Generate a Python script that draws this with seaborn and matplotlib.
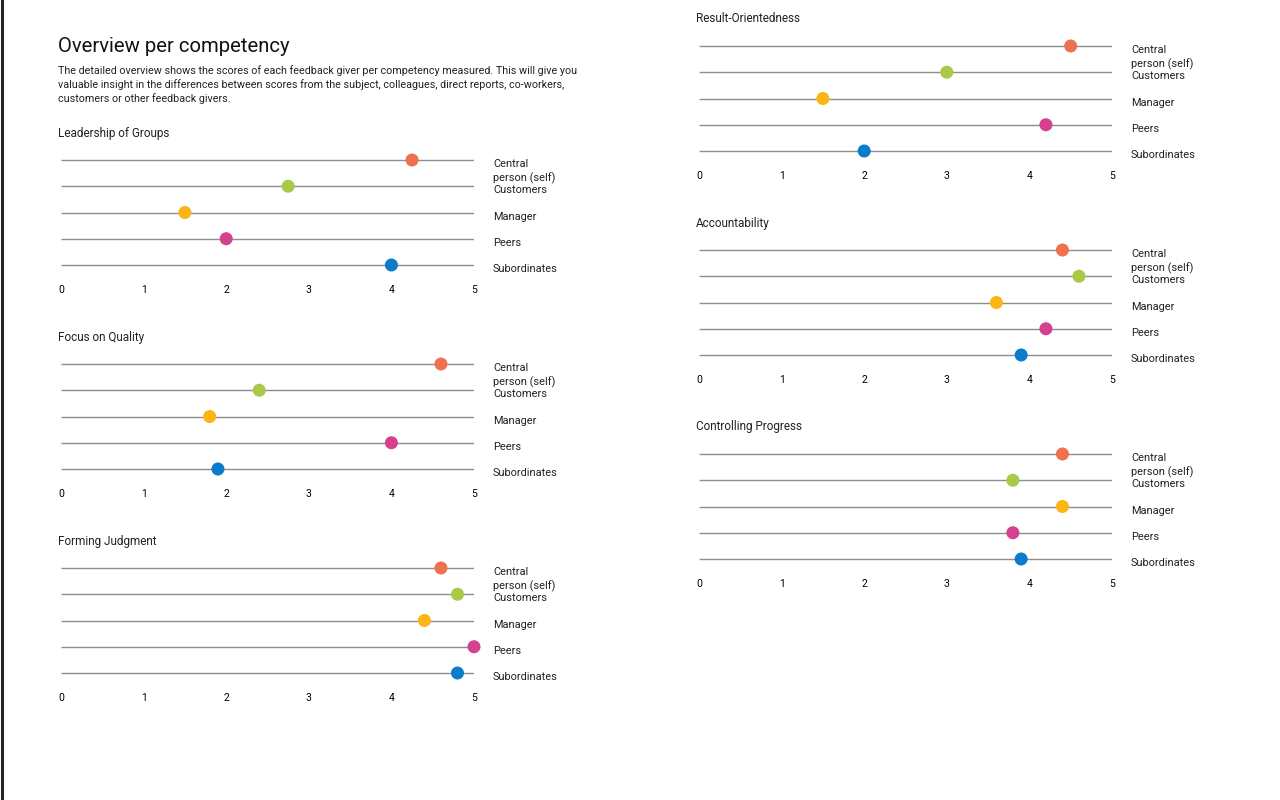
import numpy as np
import pandas as pd
import matplotlib
matplotlib.use("Agg")
import matplotlib.pyplot as plt
from matplotlib.lines import Line2D
import seaborn as sns

# ---------------- data ----------------
GIVERS = ["Central\nperson (self)", "Customers", "Manager", "Peers", "Subordinates"]
GIVER_KEYS = ["Central person (self)", "Customers", "Manager", "Peers", "Subordinates"]
COLORS = ["#EE7150", "#A9CA48", "#FDB515", "#D5418E", "#0B7CCB"]

TITLE = "Overview per competency"
INTRO = ("The detailed overview shows the scores of each feedback giver per competency measured. This will give you\n"
         "valuable insight in the differences between scores from the subject, colleagues, direct reports, co-workers,\n"
         "customers or other feedback givers.")

LEADERSHIP = [4.25, 2.75, 1.5, 2.0, 4.0]
QUALITY = [4.6, 2.4, 1.8, 4.0, 1.9]
JUDGMENT = [4.6, 4.8, 4.4, 5.0, 4.8]
RESULT = [4.5, 3.0, 1.5, 4.2, 2.0]
ACCOUNTABILITY = [4.4, 4.6, 3.6, 4.2, 3.9]
CONTROLLING = [4.4, 3.8, 4.4, 3.8, 3.9]

COMP_NAMES = ["Leadership of Groups", "Focus on Quality", "Forming Judgment",
              "Result-Orientedness", "Accountability", "Controlling Progress"]
COMP_SCORES = [LEADERSHIP, QUALITY, JUDGMENT, RESULT, ACCOUNTABILITY, CONTROLLING]
XTICKS = [0, 1, 2, 3, 4, 5]

# ---------------- style ----------------
sns.set_theme(style="white")
FONT = ["Roboto", "DejaVu Sans"]
plt.rcParams["font.family"] = FONT

W, H = 1280, 800
fig = plt.figure(figsize=(W / 100, H / 100), dpi=100)
fig.patch.set_facecolor("white")

# layout (pixels): x of score 0, x of score 5, y of first row
LAYOUT = [(61, 474, 160), (61, 474, 364), (61, 474, 568),
          (699, 1112, 46), (699, 1112, 250), (699, 1112, 454)]
ROW_GAP = 26.25
PAD = 0.4

def fx(px):
    return px / W

def fy(py):
    return 1 - py / H

for name, scores, (x0, x1, r0) in zip(COMP_NAMES, COMP_SCORES, LAYOUT):
    top = r0 - PAD * ROW_GAP
    bottom = r0 + (len(GIVERS) - 1 + PAD) * ROW_GAP
    ax = fig.add_axes([fx(x0), fy(bottom), fx(x1 - x0), (bottom - top) / H])
    df = pd.DataFrame({"giver": GIVER_KEYS, "score": scores,
                       "row": np.arange(len(GIVER_KEYS))})
    ax.hlines(df["row"], 0, 5, color="#8e8e8e", lw=1.0, zorder=1)
    sns.scatterplot(data=df, x="score", y="row", hue="giver",
                    palette=dict(zip(GIVER_KEYS, COLORS)), s=88,
                    edgecolor="none", legend=False, ax=ax, zorder=3,
                    clip_on=False)
    ax.set_xlim(0, 5)
    ax.set_ylim(len(GIVERS) - 1 + PAD, -PAD)
    ax.set_xticks(XTICKS)
    ax.set_xticklabels([str(t) for t in XTICKS], fontsize=7.5, color="black")
    ax.tick_params(axis="x", length=0, pad=7.0)
    ax.set_yticks([])
    ax.set_xlabel("")
    ax.set_ylabel("")
    for s in ax.spines.values():
        s.set_visible(False)
    ax.patch.set_alpha(0)
    lx = 1 + 19 / (x1 - x0)
    for i, lab in enumerate(GIVERS):
        ax.text(lx, i - 0.03, lab, transform=ax.get_yaxis_transform(),
                ha="left", va="top", fontsize=7.9, color="#222222",
                linespacing=1.36)
    fig.text(fx(x0 - 3), fy(r0 - 27), name, ha="left", va="center",
             fontsize=8.5, color="#222222")

fig.text(fx(58), fy(46), TITLE, ha="left", va="center", fontsize=14.6,
         color="#111111")
fig.text(fx(58), fy(65), INTRO, ha="left", va="top", fontsize=7.75,
         color="#222222", linespacing=1.35)

fig.add_artist(Line2D([fx(1.5), fx(1.5)], [0, 1], color="#222222", lw=2.2,
                      transform=fig.transFigure))

fig.savefig("out.png", dpi=100, facecolor="white")
